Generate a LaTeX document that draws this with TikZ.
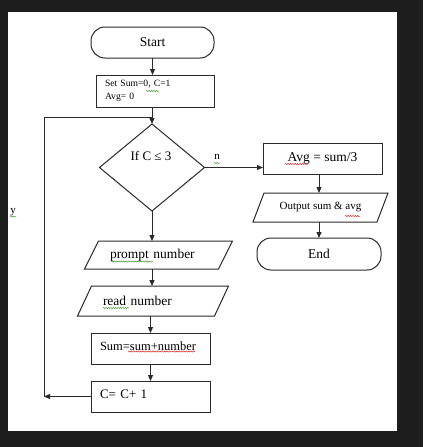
\documentclass[tikz,border=0pt]{standalone}
\usepackage{fontspec}
\setmainfont{Liberation Serif}
\usetikzlibrary{arrows.meta,calc,shapes.geometric,decorations.pathmorphing}
\definecolor{bgdark}{HTML}{1D1D1D}
\definecolor{lineclr}{HTML}{2A2A2A}
\definecolor{sqgreen}{HTML}{4A9A3A}
\definecolor{sqred}{HTML}{D03030}
\begin{document}
\begin{tikzpicture}[x=1pt,y=-1pt,
  every node/.style={inner sep=0pt, outer sep=0pt},
  line/.style={draw=lineclr, line width=1pt},
  arr/.style={line, -{Triangle[length=6pt,width=5pt]}},
  term/.style={line, rectangle, rounded corners=14pt, minimum width=#1, minimum height=31pt, font=\fontsize{13.5}{16}\selectfont},
  box/.style={line, rectangle, minimum height=31pt, text width=#1, inner xsep=9pt, align=left},
  plain/.style={rectangle, align=left, inner xsep=18.5pt, text width=#1},
  decision/.style={line, diamond, minimum width=105pt, minimum height=87pt, inner sep=0pt},
  lab/.style={font=\fontsize{11}{13}\selectfont},
  sq/.style={decorate, decoration={snake, segment length=2.4pt, amplitude=0.6pt}, line width=0.5pt}
]
% background
\fill[bgdark] (0,0) rectangle (423,447);
\fill[white] (8,12) rectangle (397,431);

% nodes
\node[term=123pt] (start) at (152.5,42.5) {Start};
\node[box=100pt, minimum height=32pt, font=\fontsize{9.6}{13}\selectfont] (set) at (155,91) {Set Sum=0, C=1\\Avg= 0};
\node[decision] (dec) at (152,167.5) {};
\node[font=\fontsize{13}{15}\selectfont] (dectext) at (151,156) {If C ≤ 3};
\node[lab] (nlab) at (217,157) {n};
\node[lab] (ylab) at (13,212) {y};
\node[line, rectangle, minimum width=119pt, minimum height=31pt, text depth=3pt, font=\fontsize{13.5}{16}\selectfont] (avg) at (322.5,158.5) {Avg = sum/3};
\node[rectangle, minimum width=124pt, minimum height=29pt, font=\fontsize{11}{13}\selectfont] (out) at (320.5,207.5) {Output sum \& avg};
\node[term=124pt, minimum height=32pt] (end) at (319,254) {End};
\node[plain=97pt, minimum height=28pt, font=\fontsize{13.5}{16}\selectfont] (prompt) at (158.5,255) {prompt number};
\node[plain=100pt, minimum height=30pt, font=\fontsize{13.5}{16}\selectfont] (read) at (153,301) {read number};
\node[box=101pt, text depth=5pt, font=\fontsize{12.5}{15}\selectfont] (sum) at (150.5,348.5) {Sum=sum+number};
\node[box=101pt, text depth=5pt, font=\fontsize{13}{15}\selectfont] (cbox) at (150.5,396.5) {C= C+ 1};

% parallelogram outlines
\draw[line] ($(out.south west)+(-5.5,0)$) -- ($(out.south east)+(-5.5,0)$) -- ($(out.north east)+(5.5,0)$) -- ($(out.north west)+(5.5,0)$) -- cycle;
\draw[line] ($(prompt.south west)+(-7,0)$) -- ($(prompt.south east)+(-7,0)$) -- ($(prompt.north east)+(7,0)$) -- ($(prompt.north west)+(7,0)$) -- cycle;
\draw[line] ($(read.south west)+(-7,0)$) -- ($(read.south east)+(-7,0)$) -- ($(read.north east)+(7,0)$) -- ($(read.north west)+(7,0)$) -- cycle;

% connectors
\coordinate (loopT) at (44,117);
\coordinate (loopB) at (44,396.5);
\draw[arr] (start.south) -- (start.south |- set.north);
\draw[arr] (dec.north |- set.south) -- (dec.north);
\draw[arr] (cbox.west) -- (loopB);
\draw[line] (loopB) -- (loopT) -- (loopT -| dec.north);
\draw[arr] (dec.east) -- (dec.east -| avg.west);
\draw[arr] (end.north |- avg.south) -- (end.north |- out.north);
\draw[arr] (end.north |- out.south) -- (end.north);
\draw[arr] (dec.south) -- (dec.south |- prompt.north);
\draw[arr] (dec.south |- prompt.south) -- (dec.south |- read.north);
\draw[arr] (sum.north |- read.south) -- (sum.north);
\draw[arr] (sum.south) -- (cbox.north);

% spell-check squiggles
\draw[sq, sqgreen] (146,91) -- (159,91);
\draw[sq, sqred] (285,164) -- (308,164);
\draw[sq, sqred] (345,216) -- (360,216);
\draw[sq, sqgreen] (111,261.5) -- (153,261.5);
\draw[sq, sqgreen] (103,308) -- (129,308);
\draw[sq, sqred] (128,351.5) -- (195,351.5);
\draw[sq, sqgreen] (214,163) -- (220,163);
\draw[sq, sqgreen] (10,216.5) -- (16,216.5);
\end{tikzpicture}
\end{document}
